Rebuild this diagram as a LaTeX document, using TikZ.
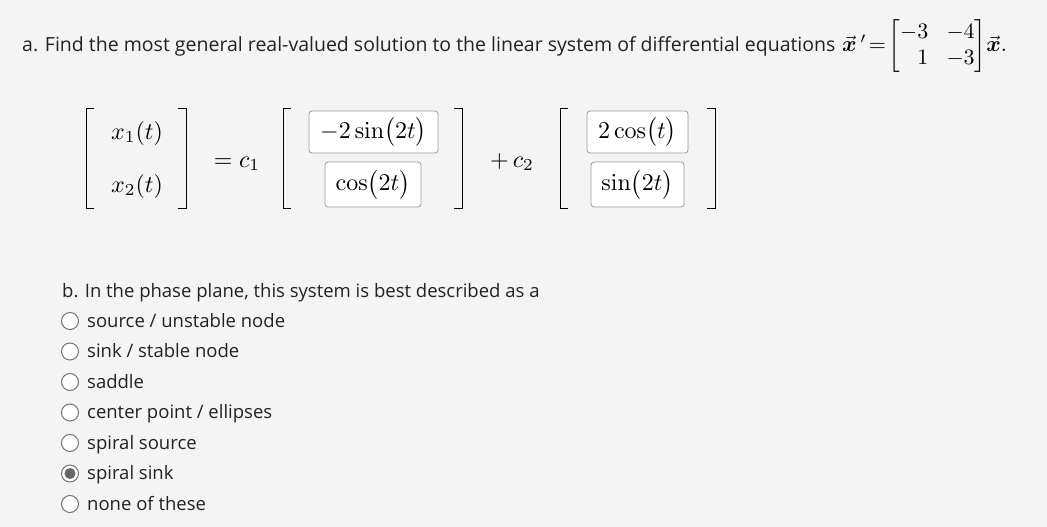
\documentclass[tikz,border=0pt]{standalone}
\usepackage{amsmath}
\usepackage[no-math]{fontspec}
\setmainfont{Open Sans}
\definecolor{bg}{HTML}{F4F4F4}
\definecolor{txt}{HTML}{222222}
\tikzset{
  ansbox/.style={draw=gray!80, rounded corners=3pt, fill=white, line width=0.8pt, inner sep=0pt},
  lbl/.style={anchor=base west, inner sep=0pt, font=\fontsize{18.5}{22}\selectfont, text=txt},
  mth/.style={inner sep=0pt, font=\normalsize},
  radio/.style={circle, draw=gray!90!black, line width=1pt, fill=white, minimum size=17pt, inner sep=0pt},
  brk/.style={line width=1pt}
}
\newcommand{\myBigMath}[1]{\scalebox{2.4}{$#1$}}
\begin{document}
\begin{tikzpicture}[x=1pt,y=-1pt]
\fill[bg] (0,0) rectangle (1047,527);
\useasboundingbox (0,0) rectangle (1047,527);
\node[lbl, font=\fontsize{19.5}{22}\selectfont] (qa) at (22,52) {a. Find the most general real-valued solution to the linear system of differential equations};
\node[anchor=west, inner sep=0pt, font=\normalsize] (qm) at (842,46) {\scalebox{2.2}{$\vec{\boldsymbol{x}}\,'\!=\!\left[\begin{array}{@{}r@{\;\;\;}r@{}}-3&-4\\1&-3\end{array}\right]\!\vec{\boldsymbol{x}}.$}};
% first vector
\draw[brk] (94,108) -- (86,108) -- (86,208) -- (94,208);
\draw[brk] (178,108) -- (186,108) -- (186,208) -- (178,208);
\node[mth] (x1) at (137,133) {\myBigMath{x_1(t)}};
\node[mth] (x2) at (137,186) {\myBigMath{x_2(t)}};
\node[mth] (eq) at (237,164) {\myBigMath{=c_1}};
% second vector
\draw[brk] (291,108) -- (283,108) -- (283,208) -- (291,208);
\draw[brk] (454,108) -- (462,108) -- (462,208) -- (454,208);
\node[ansbox, minimum width=129pt, minimum height=42pt] (b1) at (373.5,132) {};
\node[mth] at (b1) {\myBigMath{-2\sin\bigl(2t\bigr)}};
\node[ansbox, minimum width=96pt, minimum height=45pt] (b2) at (373,184.5) {};
\node[mth] at (b2) {\myBigMath{\cos\bigl(2t\bigr)}};
\node[mth] (pl) at (512,162) {\myBigMath{+\,c_2}};
% third vector
\draw[brk] (568,108) -- (560,108) -- (560,208) -- (568,208);
\draw[brk] (707,108) -- (715,108) -- (715,208) -- (707,208);
\node[ansbox, minimum width=101pt, minimum height=42pt] (b3) at (637.5,132) {};
\node[mth] at (b3) {\myBigMath{2\cos\bigl(t\bigr)}};
\node[ansbox, minimum width=93pt, minimum height=45pt] (b4) at (637.5,184.5) {};
\node[mth] at (b4) {\myBigMath{\sin\bigl(2t\bigr)}};
% part b
\node[lbl] (qb) at (62,297) {b. In the phase plane, this system is best described as a};
\foreach \i/\t in {0/{source / unstable node},1/{sink / stable node},2/saddle,3/{center point / ellipses},4/spiral source,5/spiral sink,6/none of these}{
  \node[radio] (r\i) at (70,{321+30.5*\i}) {};
  \node[lbl] (t\i) at (87,{327+30.5*\i}) {\t};
}
\fill[gray!80!black] (r5) circle (5.5pt);
\end{tikzpicture}
\end{document}
